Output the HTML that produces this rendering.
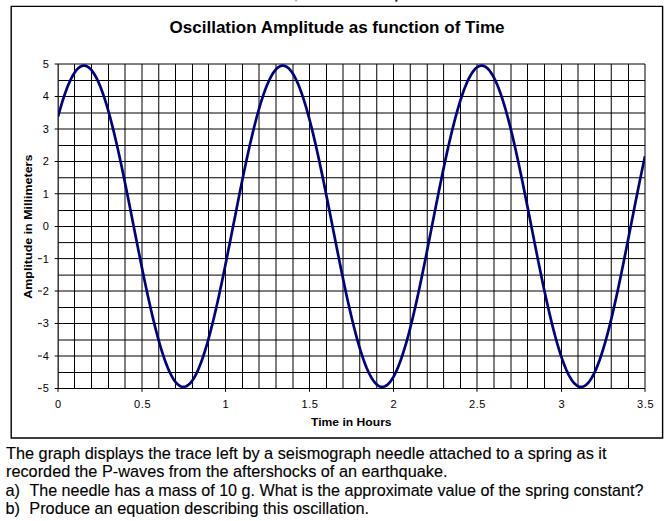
<!DOCTYPE html><html><head><meta charset="utf-8"><style>html,body{margin:0;padding:0;background:#fff;width:672px;height:521px;overflow:hidden}svg{display:block}text{font-family:"Liberation Sans",sans-serif}</style></head><body>
<svg width="672" height="521" viewBox="0 0 672 521">
<rect x="295" y="0" width="2.2" height="1.3" fill="#b0b0c0"/><rect x="395.4" y="0" width="2" height="1.6" fill="#111"/>
<path d="M11.2 5.7V438.7M10.5 6.4H663.3M662.6 5.7V438.7M10.5 438.0H663.3" stroke="#000" stroke-width="1.4" fill="none"/>
<path d="M74.50 64.00V388.50M91.50 64.00V388.50M108.50 64.00V388.50M125.00 64.00V388.50M142.00 64.00V388.50M158.75 64.00V388.50M175.50 64.00V388.50M192.50 64.00V388.50M208.50 64.00V388.50M225.50 64.00V388.50M242.50 64.00V388.50M259.00 64.00V388.50M276.00 64.00V388.50M293.00 64.00V388.50M309.50 64.00V388.50M326.50 64.00V388.50M343.00 64.00V388.50M359.75 64.00V388.50M376.75 64.00V388.50M393.50 64.00V388.50M410.25 64.00V388.50M427.25 64.00V388.50M443.60 64.00V388.50M460.50 64.00V388.50M477.00 64.00V388.50M494.00 64.00V388.50M511.00 64.00V388.50M527.50 64.00V388.50M544.50 64.00V388.50M561.50 64.00V388.50M578.00 64.00V388.50M594.50 64.00V388.50M611.25 64.00V388.50M628.50 64.00V388.50M645.00 64.00V388.50M58.00 64.00H645.00M58.00 80.50H645.00M58.00 96.50H645.00M58.00 113.00H645.00M58.00 129.00H645.00M58.00 145.50H645.00M58.00 161.50H645.00M58.00 177.75H645.00M58.00 193.75H645.00M58.00 210.50H645.00M58.00 226.50H645.00M58.00 242.60H645.00M58.00 258.60H645.00M58.00 275.10H645.00M58.00 291.00H645.00M58.00 307.50H645.00M58.00 323.50H645.00M58.00 340.00H645.00M58.00 356.00H645.00M58.00 372.50H645.00M58.00 388.50H645.00" stroke="#000" stroke-width="1" fill="none"/>
<path d="M58.2 64.00V388.50" stroke="#1a1a1a" stroke-width="1.3" fill="none"/>
<path d="M54.70 64.00H58.00M54.70 96.50H58.00M54.70 129.00H58.00M54.70 161.50H58.00M54.70 193.75H58.00M54.70 226.50H58.00M54.70 258.60H58.00M54.70 291.00H58.00M54.70 323.50H58.00M54.70 356.00H58.00M54.70 388.50H58.00M58.00 388.50V391.80M142.00 388.50V391.80M225.50 388.50V391.80M309.50 388.50V391.80M393.50 388.50V391.80M477.00 388.50V391.80M561.50 388.50V391.80M645.00 388.50V391.80" stroke="#000" stroke-width="1" fill="none"/>
<text x="48.8" y="67.90" font-size="11" text-anchor="end">5</text>
<text x="48.8" y="100.40" font-size="11" text-anchor="end">4</text>
<text x="48.8" y="132.90" font-size="11" text-anchor="end">3</text>
<text x="48.8" y="165.40" font-size="11" text-anchor="end">2</text>
<text x="48.8" y="197.65" font-size="11" text-anchor="end">1</text>
<text x="48.8" y="230.40" font-size="11" text-anchor="end">0</text>
<rect x="38.0" y="258.00" width="3.9" height="1.2" fill="#333"/><text x="48.8" y="262.50" font-size="11" text-anchor="end">1</text>
<rect x="38.0" y="290.40" width="3.9" height="1.2" fill="#333"/><text x="48.8" y="294.90" font-size="11" text-anchor="end">2</text>
<rect x="38.0" y="322.90" width="3.9" height="1.2" fill="#333"/><text x="48.8" y="327.40" font-size="11" text-anchor="end">3</text>
<rect x="38.0" y="355.40" width="3.9" height="1.2" fill="#333"/><text x="48.8" y="359.90" font-size="11" text-anchor="end">4</text>
<rect x="38.0" y="387.90" width="3.9" height="1.2" fill="#333"/><text x="48.8" y="392.40" font-size="11" text-anchor="end">5</text>
<text x="58.00" y="408.1" font-size="11" text-anchor="middle">0</text>
<text x="142.30" y="408.1" font-size="11" text-anchor="middle" textLength="16.4" lengthAdjust="spacing">0.5</text>
<text x="225.50" y="408.1" font-size="11" text-anchor="middle">1</text>
<text x="309.80" y="408.1" font-size="11" text-anchor="middle" textLength="16.4" lengthAdjust="spacing">1.5</text>
<text x="393.50" y="408.1" font-size="11" text-anchor="middle">2</text>
<text x="477.30" y="408.1" font-size="11" text-anchor="middle" textLength="16.4" lengthAdjust="spacing">2.5</text>
<text x="561.50" y="408.1" font-size="11" text-anchor="middle">3</text>
<text x="645.30" y="408.1" font-size="11" text-anchor="middle" textLength="16.4" lengthAdjust="spacing">3.5</text>
<text x="169.5" y="32.6" font-size="15.8" font-weight="bold" textLength="335" lengthAdjust="spacingAndGlyphs">Oscillation Amplitude as function of Time</text>
<text x="311" y="426" font-size="11" font-weight="bold" textLength="80.6" lengthAdjust="spacingAndGlyphs">Time in Hours</text>
<text transform="translate(31.5 298.8) rotate(-90)" x="0" y="0" font-size="11" font-weight="bold" textLength="144.2" lengthAdjust="spacingAndGlyphs">Amplitude in Millimeters</text>
<clipPath id="c"><rect x="58.0" y="64.0" width="587.0" height="324.5"/></clipPath>
<polyline clip-path="url(#c)" points="58.00,116.76 58.84,113.68 59.68,110.69 60.52,107.77 61.35,104.94 62.19,102.19 63.03,99.53 63.87,96.96 64.71,94.48 65.55,92.09 66.39,89.80 67.22,87.60 68.06,85.50 68.90,83.50 69.74,81.60 70.58,79.80 71.42,78.10 72.26,76.51 73.09,75.02 73.93,73.64 74.77,72.37 75.61,71.20 76.45,70.14 77.29,69.19 78.13,68.36 78.96,67.63 79.80,67.02 80.64,66.51 81.48,66.12 82.32,65.84 83.16,65.68 84.00,65.62 84.83,65.68 85.67,65.85 86.51,66.14 87.35,66.54 88.19,67.05 89.03,67.67 89.87,68.40 90.70,69.24 91.54,70.20 92.38,71.26 93.22,72.43 94.06,73.71 94.90,75.10 95.74,76.59 96.57,78.19 97.41,79.89 98.25,81.70 99.09,83.60 99.93,85.61 100.77,87.72 101.61,89.92 102.44,92.22 103.28,94.61 104.12,97.10 104.96,99.67 105.80,102.34 106.64,105.09 107.48,107.92 108.31,110.84 109.15,113.85 109.99,116.93 110.83,120.08 111.67,123.31 112.51,126.62 113.35,129.99 114.18,133.43 115.02,136.94 115.86,140.51 116.70,144.14 117.54,147.82 118.38,151.56 119.22,155.36 120.05,159.20 120.89,163.09 121.73,167.03 122.57,171.01 123.41,175.02 124.25,179.07 125.09,183.16 125.92,187.27 126.76,191.42 127.60,195.58 128.44,199.77 129.28,203.98 130.12,208.20 130.96,212.44 131.79,216.68 132.63,220.94 133.47,225.19 134.31,229.45 135.15,233.70 135.99,237.95 136.83,242.19 137.66,246.42 138.50,250.64 139.34,254.83 140.18,259.01 141.02,263.17 141.86,267.30 142.70,271.40 143.53,275.47 144.37,279.50 145.21,283.50 146.05,287.45 146.89,291.37 147.73,295.23 148.57,299.05 149.40,302.82 150.24,306.54 151.08,310.20 151.92,313.79 152.76,317.33 153.60,320.81 154.44,324.21 155.27,327.55 156.11,330.82 156.95,334.01 157.79,337.13 158.63,340.17 159.47,343.13 160.31,346.01 161.14,348.81 161.98,351.51 162.82,354.13 163.66,356.66 164.50,359.10 165.34,361.45 166.18,363.70 167.01,365.85 167.85,367.91 168.69,369.87 169.53,371.72 170.37,373.48 171.21,375.13 172.05,376.67 172.88,378.11 173.72,379.45 174.56,380.67 175.40,381.79 176.24,382.80 177.08,383.70 177.92,384.48 178.75,385.16 179.59,385.72 180.43,386.18 181.27,386.52 182.11,386.75 182.95,386.86 183.79,386.86 184.62,386.75 185.46,386.53 186.30,386.20 187.14,385.75 187.98,385.19 188.82,384.52 189.66,383.74 190.49,382.84 191.33,381.84 192.17,380.73 193.01,379.51 193.85,378.18 194.69,376.74 195.53,375.20 196.36,373.56 197.20,371.81 198.04,369.96 198.88,368.01 199.72,365.95 200.56,363.81 201.40,361.56 202.23,359.22 203.07,356.78 203.91,354.26 204.75,351.64 205.59,348.94 206.43,346.15 207.27,343.27 208.10,340.32 208.94,337.28 209.78,334.17 210.62,330.98 211.46,327.71 212.30,324.38 213.14,320.97 213.97,317.50 214.81,313.97 215.65,310.37 216.49,306.71 217.33,303.00 218.17,299.24 219.01,295.42 219.84,291.55 220.68,287.64 221.52,283.69 222.36,279.69 223.20,275.66 224.04,271.59 224.88,267.50 225.71,263.37 226.55,259.21 227.39,255.04 228.23,250.84 229.07,246.62 229.91,242.40 230.75,238.16 231.58,233.91 232.42,229.65 233.26,225.40 234.10,221.14 234.94,216.89 235.78,212.64 236.62,208.41 237.45,204.18 238.29,199.98 239.13,195.79 239.97,191.62 240.81,187.47 241.65,183.36 242.49,179.27 243.32,175.22 244.16,171.20 245.00,167.22 245.84,163.28 246.68,159.39 247.52,155.54 248.36,151.75 249.19,148.00 250.03,144.31 250.87,140.68 251.71,137.11 252.55,133.60 253.39,130.15 254.23,126.78 255.06,123.47 255.90,120.24 256.74,117.08 257.58,113.99 258.42,110.99 259.26,108.06 260.10,105.22 260.93,102.47 261.77,99.80 262.61,97.22 263.45,94.73 264.29,92.33 265.13,90.03 265.97,87.82 266.80,85.71 267.64,83.70 268.48,81.79 269.32,79.98 270.16,78.27 271.00,76.67 271.84,75.17 272.67,73.78 273.51,72.49 274.35,71.31 275.19,70.24 276.03,69.29 276.87,68.44 277.71,67.70 278.54,67.07 279.38,66.56 280.22,66.16 281.06,65.87 281.90,65.69 282.74,65.62 283.58,65.67 284.41,65.83 285.25,66.10 286.09,66.49 286.93,66.99 287.77,67.60 288.61,68.32 289.45,69.15 290.28,70.09 291.12,71.15 291.96,72.31 292.80,73.58 293.64,74.95 294.48,76.44 295.32,78.02 296.15,79.72 296.99,81.51 297.83,83.41 298.67,85.40 299.51,87.50 300.35,89.69 301.19,91.98 302.02,94.36 302.86,96.84 303.70,99.41 304.54,102.06 305.38,104.81 306.22,107.63 307.06,110.55 307.89,113.54 308.73,116.61 309.57,119.76 310.41,122.98 311.25,126.28 312.09,129.65 312.93,133.08 313.76,136.58 314.60,140.14 315.44,143.77 316.28,147.45 317.12,151.18 317.96,154.97 318.80,158.81 319.63,162.70 320.47,166.63 321.31,170.60 322.15,174.61 322.99,178.66 323.83,182.74 324.67,186.86 325.50,191.00 326.34,195.16 327.18,199.35 328.02,203.55 328.86,207.77 329.70,212.01 330.54,216.25 331.37,220.50 332.21,224.76 333.05,229.02 333.89,233.27 334.73,237.52 335.57,241.76 336.41,245.99 337.24,250.21 338.08,254.41 338.92,258.59 339.76,262.75 340.60,266.88 341.44,270.98 342.28,275.06 343.11,279.09 343.95,283.09 344.79,287.05 345.63,290.97 346.47,294.85 347.31,298.67 348.15,302.44 348.98,306.16 349.82,309.83 350.66,313.43 351.50,316.98 352.34,320.46 353.18,323.87 354.02,327.22 354.85,330.49 355.69,333.69 356.53,336.82 357.37,339.87 358.21,342.84 359.05,345.72 359.89,348.53 360.72,351.24 361.56,353.87 362.40,356.41 363.24,358.86 364.08,361.22 364.92,363.48 365.76,365.64 366.59,367.71 367.43,369.67 368.27,371.54 369.11,373.30 369.95,374.96 370.79,376.52 371.63,377.97 372.46,379.32 373.30,380.55 374.14,381.68 374.98,382.70 375.82,383.61 376.66,384.41 377.50,385.10 378.33,385.67 379.17,386.14 380.01,386.49 380.85,386.73 381.69,386.86 382.53,386.87 383.37,386.77 384.20,386.56 385.04,386.24 385.88,385.80 386.72,385.25 387.56,384.59 388.40,383.82 389.24,382.94 390.07,381.95 390.91,380.85 391.75,379.64 392.59,378.32 393.43,376.89 394.27,375.36 395.11,373.73 395.94,371.99 396.78,370.15 397.62,368.21 398.46,366.17 399.30,364.03 400.14,361.79 400.98,359.46 401.81,357.03 402.65,354.52 403.49,351.91 404.33,349.22 405.17,346.43 406.01,343.57 406.85,340.62 407.68,337.59 408.52,334.48 409.36,331.30 410.20,328.05 411.04,324.72 411.88,321.32 412.72,317.86 413.55,314.33 414.39,310.74 415.23,307.09 416.07,303.38 416.91,299.62 417.75,295.81 418.59,291.95 419.42,288.04 420.26,284.09 421.10,280.10 421.94,276.07 422.78,272.01 423.62,267.91 424.46,263.79 425.29,259.64 426.13,255.46 426.97,251.27 427.81,247.05 428.65,242.82 429.49,238.59 430.33,234.34 431.16,230.08 432.00,225.83 432.84,221.57 433.68,217.32 434.52,213.07 435.36,208.84 436.20,204.61 437.03,200.40 437.87,196.21 438.71,192.04 439.55,187.89 440.39,183.77 441.23,179.68 442.07,175.63 442.90,171.60 443.74,167.62 444.58,163.68 445.42,159.78 446.26,155.93 447.10,152.13 447.94,148.38 448.77,144.68 449.61,141.05 450.45,137.47 451.29,133.95 452.13,130.50 452.97,127.12 453.81,123.80 454.64,120.56 455.48,117.39 456.32,114.30 457.16,111.29 458.00,108.36 458.84,105.51 459.68,102.74 460.51,100.06 461.35,97.48 462.19,94.98 463.03,92.57 463.87,90.26 464.71,88.04 465.55,85.92 466.38,83.90 467.22,81.98 468.06,80.16 468.90,78.44 469.74,76.82 470.58,75.32 471.42,73.91 472.25,72.62 473.09,71.43 473.93,70.35 474.77,69.38 475.61,68.52 476.45,67.77 477.29,67.13 478.12,66.61 478.96,66.19 479.80,65.89 480.64,65.70 481.48,65.62 482.32,65.66 483.16,65.81 483.99,66.07 484.83,66.45 485.67,66.93 486.51,67.53 487.35,68.24 488.19,69.06 489.03,69.99 489.86,71.03 490.70,72.18 491.54,73.44 492.38,74.81 493.22,76.28 494.06,77.86 494.90,79.54 495.73,81.32 496.57,83.21 497.41,85.20 498.25,87.28 499.09,89.47 499.93,91.74 500.77,94.12 501.60,96.58 502.44,99.14 503.28,101.79 504.12,104.52 504.96,107.34 505.80,110.25 506.64,113.23 507.47,116.30 508.31,119.44 509.15,122.65 509.99,125.94 510.83,129.30 511.67,132.73 512.51,136.22 513.34,139.78 514.18,143.40 515.02,147.07 515.86,150.80 516.70,154.59 517.54,158.42 518.38,162.30 519.21,166.23 520.05,170.20 520.89,174.21 521.73,178.25 522.57,182.33 523.41,186.44 524.25,190.58 525.08,194.74 525.92,198.92 526.76,203.13 527.60,207.35 528.44,211.58 529.28,215.82 530.12,220.07 530.95,224.33 531.79,228.58 532.63,232.84 533.47,237.09 534.31,241.33 535.15,245.56 535.99,249.78 536.82,253.99 537.66,258.17 538.50,262.33 539.34,266.46 540.18,270.57 541.02,274.64 541.86,278.69 542.69,282.69 543.53,286.66 544.37,290.58 545.21,294.45 546.05,298.28 546.89,302.06 547.73,305.79 548.56,309.46 549.40,313.07 550.24,316.62 551.08,320.11 551.92,323.53 552.76,326.88 553.60,330.16 554.43,333.37 555.27,336.51 556.11,339.56 556.95,342.54 557.79,345.43 558.63,348.25 559.47,350.97 560.30,353.61 561.14,356.16 561.98,358.62 562.82,360.98 563.66,363.25 564.50,365.42 565.34,367.50 566.17,369.48 567.01,371.35 567.85,373.13 568.69,374.80 569.53,376.37 570.37,377.83 571.21,379.18 572.04,380.43 572.88,381.57 573.72,382.60 574.56,383.52 575.40,384.33 576.24,385.03 577.08,385.62 577.91,386.09 578.75,386.46 579.59,386.71 580.43,386.85 581.27,386.87 582.11,386.79 582.95,386.59 583.78,386.27 584.62,385.85 585.46,385.31 586.30,384.66 587.14,383.90 587.98,383.03 588.82,382.05 589.65,380.96 590.49,379.76 591.33,378.46 592.17,377.04 593.01,375.52 593.85,373.90 594.69,372.17 595.52,370.34 596.36,368.41 597.20,366.38 598.04,364.25 598.88,362.02 599.72,359.70 600.56,357.28 601.39,354.78 602.23,352.18 603.07,349.49 603.91,346.72 604.75,343.86 605.59,340.92 606.43,337.90 607.26,334.80 608.10,331.63 608.94,328.38 609.78,325.06 610.62,321.67 611.46,318.21 612.30,314.69 613.13,311.10 613.97,307.46 614.81,303.76 615.65,300.00 616.49,296.20 617.33,292.34 618.17,288.44 619.00,284.49 619.84,280.51 620.68,276.48 621.52,272.42 622.36,268.33 623.20,264.21 624.04,260.06 624.87,255.88 625.71,251.69 626.55,247.48 627.39,243.25 628.23,239.02 629.07,234.77 629.91,230.52 630.74,226.26 631.58,222.00 632.42,217.75 633.26,213.50 634.10,209.26 634.94,205.04 635.78,200.83 636.61,196.63 637.45,192.46 638.29,188.31 639.13,184.19 639.97,180.10 640.81,176.04 641.65,172.01 642.48,168.02 643.32,164.08 644.16,160.17 645.00,156.32" fill="none" stroke="#000080" stroke-width="2.7" stroke-linejoin="round"/>
<g stroke="#000" stroke-width="0.12">
<text transform="translate(6 458.7) scale(1 1.04)" x="0" y="0" font-size="16.3" textLength="600.5" lengthAdjust="spacingAndGlyphs">The graph displays the trace left by a seismograph needle attached to a spring as it</text>
<text transform="translate(6 476.8) scale(1 1.04)" x="0" y="0" font-size="16.3" textLength="441.5" lengthAdjust="spacingAndGlyphs">recorded the P-waves from the aftershocks of an earthquake.</text>
<text transform="translate(5.5 495.8) scale(1 1.04)" x="0" y="0" font-size="16.3">a)</text>
<text transform="translate(29.4 495.8) scale(1 1.04)" x="0" y="0" font-size="16.3" textLength="614" lengthAdjust="spacingAndGlyphs">The needle has a mass of 10 g. What is the approximate value of the spring constant?</text>
<text transform="translate(5.5 513.8) scale(1 1.04)" x="0" y="0" font-size="16.3">b)</text>
<text transform="translate(29.3 513.8) scale(1 1.04)" x="0" y="0" font-size="16.3" textLength="339.8" lengthAdjust="spacingAndGlyphs">Produce an equation describing this oscillation.</text>
</g>
</svg></body></html>
